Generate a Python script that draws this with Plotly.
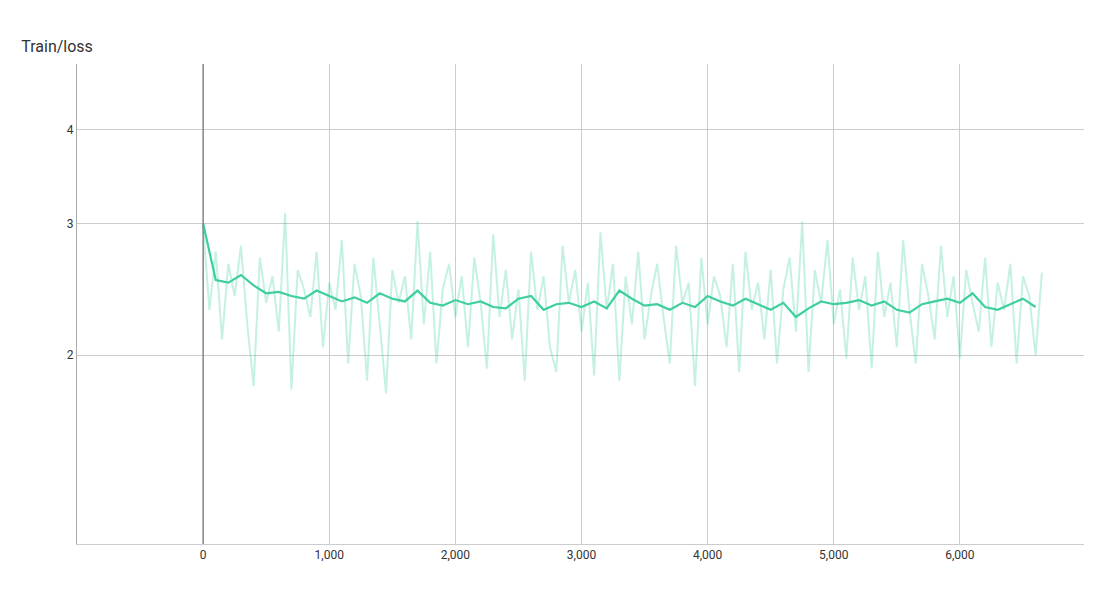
import plotly.graph_objects as go

raw_steps = list(range(0, 6700, 50))
raw_vals = [2.98,2.30,2.75,2.10,2.65,2.40,2.80,2.20,1.82,2.70,2.35,2.55,2.15,3.10,1.80,2.60,2.45,2.25,2.75,2.05,
            2.50,2.30,2.85,1.95,2.65,2.40,1.85,2.70,2.20,1.78,2.60,2.35,2.55,2.10,3.02,2.20,2.75,1.95,2.45,2.65,
            2.25,2.55,2.05,2.70,2.35,1.92,2.90,2.25,2.60,2.10,2.45,1.85,2.75,2.30,2.55,2.05,1.90,2.80,2.35,2.60,
            2.15,2.50,1.88,2.92,2.30,2.65,1.85,2.55,2.20,2.75,2.10,2.40,2.65,2.25,1.95,2.80,2.35,2.50,1.82,2.70,
            2.20,2.55,2.40,2.05,2.65,1.90,2.75,2.30,2.50,2.10,2.60,1.95,2.45,2.70,2.15,3.02,1.90,2.60,2.35,2.85,
            2.20,2.45,1.98,2.70,2.30,2.55,1.92,2.75,2.25,2.50,2.05,2.85,2.30,1.95,2.65,2.40,2.10,2.80,2.25,2.55,
            1.98,2.60,2.35,2.15,2.70,2.05,2.50,2.30,2.65,1.95,2.55,2.40,2.00,2.58]
sm_steps = list(range(0, 6700, 100))
sm_vals = [3.0,2.52,2.50,2.56,2.48,2.42,2.43,2.40,2.38,2.44,2.40,2.36,2.39,2.35,2.42,2.38,2.36,2.44,2.35,2.33,
           2.37,2.34,2.36,2.32,2.31,2.38,2.40,2.30,2.34,2.35,2.32,2.36,2.31,2.44,2.38,2.33,2.34,2.30,2.35,2.32,
           2.40,2.36,2.33,2.38,2.34,2.30,2.35,2.25,2.31,2.36,2.34,2.35,2.37,2.33,2.36,2.30,2.28,2.34,2.36,2.38,
           2.35,2.42,2.32,2.30,2.34,2.38,2.32]

fig = go.Figure()
fig.add_trace(go.Scatter(x=raw_steps, y=raw_vals, mode="lines",
                         line=dict(color="rgba(64,208,160,0.3)", width=2), hoverinfo="skip"))
fig.add_trace(go.Scatter(x=sm_steps, y=sm_vals, mode="lines",
                         line=dict(color="#3ecf9c", width=2.2)))
fig.add_shape(type="line", x0=0, x1=0, y0=0, y1=1, yref="paper", line=dict(color="#888", width=1.5))
fig.update_layout(
    width=1103, height=597, showlegend=False, plot_bgcolor="white", paper_bgcolor="white",
    margin=dict(l=69, r=27, t=56, b=61),
    font=dict(family="Roboto", size=12, color="#333"),
    title=dict(text="Train/loss", x=0.012, y=0.945, xanchor="left", font=dict(size=16, color="#333")),
)
fig.update_xaxes(range=[-1000, 6984], tickvals=[0,1000,2000,3000,4000,5000,6000],
                 ticktext=["0","1,000","2,000","3,000","4,000","5,000","6,000"],
                 showgrid=True, gridcolor="#ccc", zeroline=False,
                 showline=True, linecolor="#ccc", mirror=False)
fig.update_yaxes(type="log", range=[0.049, 0.690], tickvals=[2,3,4],
                 showgrid=True, gridcolor="#ccc", zeroline=False,
                 showline=True, linecolor="#aaa", ticks="", ticklen=0)
fig.write_html("out.html")
